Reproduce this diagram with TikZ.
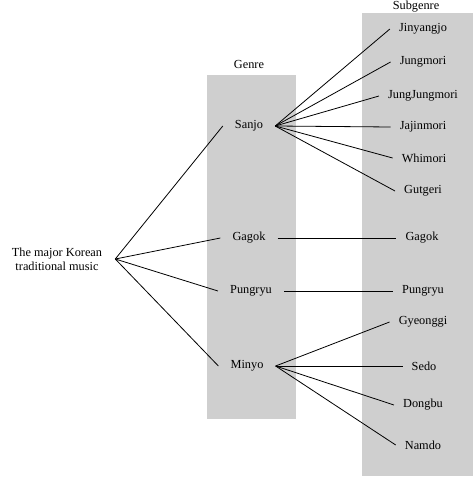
\documentclass[tikz,border=0pt]{standalone}
\usepackage{fontspec}
\setmainfont{Liberation Serif}

\begin{document}
\begin{tikzpicture}[x=1pt,y=-1pt,font=\fontsize{12.3}{14}\selectfont,
  genre/.style={inner xsep=12pt, inner ysep=2pt},
  sub/.style={inner xsep=9pt, inner ysep=2pt},
  link/.style={line width=0.8pt}]
\useasboundingbox (0,0) rectangle (474,481);

% Shaded columns
\fill[gray!38] (207,75) rectangle (296,419);
\fill[gray!38] (362,13) rectangle (473,476);

% Headings
\node (genrehead) at (249,64) {Genre};
\node (subhead) at (416,7) {Subgenre};

% Root
\node[align=center, inner xsep=13pt] (root) at (57,259) {The major Korean\\traditional music};

% Genres
\node[genre] (sanjo) at (249,126) {Sanjo};
\node[genre] (gagok) at (249,238) {Gagok};
\node[genre] (pungryu) at (251,291) {Pungryu};
\node[genre] (minyo) at (247,366) {Minyo};

% Subgenres
\node[sub] (jinyangjo) at (423,29) {Jinyangjo};
\node[sub] (jungmori) at (423,62) {Jungmori};
\node[sub] (jungjung) at (423,96) {JungJungmori};
\node[sub] (jajinmori) at (423,127) {Jajinmori};
\node[sub] (whimori) at (424,158) {Whimori};
\node[sub] (gutgeri) at (423,191) {Gutgeri};
\node[sub] (gagok2) at (422,238) {Gagok};
\node[sub] (pungryu2) at (423,291) {Pungryu};
\node[sub] (gyeonggi) at (423,322) {Gyeonggi};
\node[sub] (sedo) at (424,366) {Sedo};
\node[sub] (dongbu) at (423,405) {Dongbu};
\node[sub] (namdo) at (423,445) {Namdo};

\draw[link] (root.east) -- (sanjo.west);
\draw[link] (root.east) -- (gagok.west);
\draw[link] (root.east) -- (pungryu.west);
\draw[link] (root.east) -- (minyo.west);

\foreach \s in {jinyangjo,jungmori,jungjung,jajinmori,whimori,gutgeri}
  \draw[link] (sanjo.east) -- (\s.west);
\draw[link] (gagok.east) -- (gagok2.west);
\draw[link] (pungryu.east) -- (pungryu2.west);
\foreach \s in {gyeonggi,sedo,dongbu,namdo}
  \draw[link] (minyo.east) -- (\s.west);
\end{tikzpicture}
\end{document}
